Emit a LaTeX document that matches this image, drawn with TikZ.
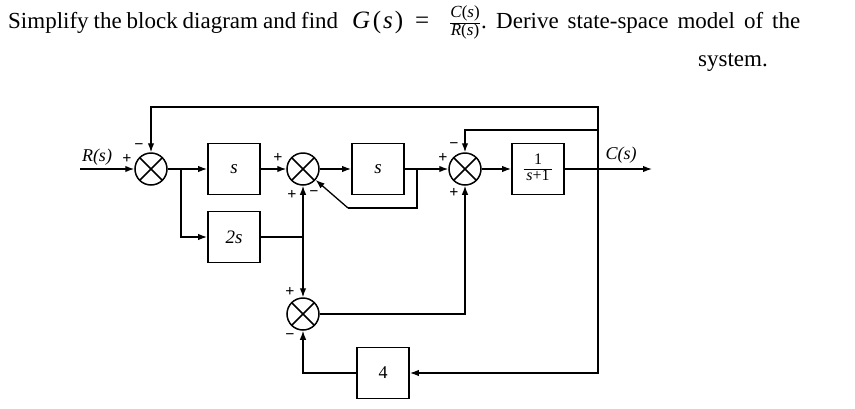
\documentclass[tikz,border=0pt]{standalone}
\usepackage{fontspec}
\setmainfont{Liberation Serif}
\usetikzlibrary{arrows.meta}
\begin{document}
\begin{tikzpicture}[x=1pt,y=-1pt,
  line/.style={line width=1.3pt},
  arr/.style={line width=1.3pt,-{Latex[length=9pt,width=6.5pt]}},
  blk/.style={draw,line width=1.8pt,minimum width=52pt,minimum height=51pt,inner sep=0,font=\fontsize{19}{22}\selectfont\itshape},
  sum/.style={draw,circle,line width=1.5pt,minimum size=32pt,inner sep=0,
    path picture={\draw[line width=1.5pt] (path picture bounding box.north west)--(path picture bounding box.south east)
      (path picture bounding box.north east)--(path picture bounding box.south west);}},
  sgn/.style={font=\fontsize{16}{16}\selectfont\bfseries,inner sep=0},
  lbl/.style={font=\fontsize{18}{20}\selectfont\itshape,inner sep=0},
  title/.style={font=\fontsize{23}{27}\selectfont,inner sep=0}]
\useasboundingbox (0,0) rectangle (855,408);
% title
\node[title,anchor=base west] (t1) at (8,28) {\makebox[330pt][s]{Simplify the block diagram and find}};
\node[title,anchor=base west,font=\fontsize{25}{27}\selectfont] (t2) at (352,28) {\textit{G}\kern2.5pt(\kern2pt\textit{s}\kern2pt)\hspace{12pt}=};
\node[inner sep=0] (t3) at (465,23) {\fontsize{17}{17}\selectfont\renewcommand\arraystretch{1.05}\begin{tabular}{@{}c@{}}\textit{C}(\textit{s})\\\hline\textit{R}(\textit{s})\end{tabular}};
\node[title,anchor=base west] (t4) at (481,28) {.};
\node[title,anchor=base west] (t5) at (496,28) {\makebox[304pt][s]{Derive state-space model of the}};
\node[title,anchor=base east] (t6) at (768,66) {system.};
% blocks and summers
\node[sum] (s1) at (151,169) {};
\node[sum] (s2) at (303,169) {};
\node[sum] (s3) at (465,169) {};
\node[sum] (s4) at (303,314) {};
\node[blk] (b1) at (234,169) {s};
\node[blk] (b2) at (234,237) {2s};
\node[blk] (b3) at (378,169) {s};
\node[blk,font=\fontsize{16}{16}\selectfont] (b5) at (538,169) {\renewcommand\arraystretch{1.0}\begin{tabular}{@{\,}c@{\,}}1\\\hline\textit{s}+1\end{tabular}};
\node[blk,font=\fontsize{18}{20}\selectfont] (b4) at (383,373) {4};
% signs
\node[sgn] (p1a) at (127,159) {+};
\node[sgn] (m1a) at (139,147) {−};
\node[sgn] (p2a) at (278,158) {+};
\node[sgn] (p2b) at (292,195) {+};
\node[sgn] (m2a) at (314,194) {−};
\node[sgn] (p3a) at (443,158) {+};
\node[sgn] (m3a) at (454,146) {−};
\node[sgn] (p3b) at (454,193) {+};
\node[sgn] (p4a) at (290,292) {+};
\node[sgn] (m4a) at (290,337) {−};
% labels
\node[lbl] (lr) at (97,157) {R(s)};
\node[lbl] (lc) at (621,155) {C(s)};
% coordinates
\coordinate (rin) at (80,169);
\coordinate (j1) at (181,169);
\coordinate (j2) at (303,237);
\coordinate (j3) at (417,169);
\coordinate (k2) at (348,208);
\coordinate (cout) at (598,169);
\coordinate (ctop) at (598,107);
\coordinate (cmid) at (598,130);
\coordinate (cbot) at (598,373);
\coordinate (yout) at (652,169);
% connectors
\draw[arr] (rin) -- (s1);
\draw[arr] (s1) -- (b1);
\draw[arr] (j1) |- (b2);
\draw[arr] (b1) -- (s2);
\draw[line] (b2) -- (j2);
\draw[arr] (j2) -- (s2);
\draw[arr] (j2) -- (s4);
\draw[arr] (s2) -- (b3);
\draw[arr] (b3) -- (s3);
\draw[line] (j3) |- (k2);
\draw[arr] (k2) -- (s2);
\draw[arr] (s3) -- (b5);
\draw[arr] (b5) -- (yout);
\draw[arr] (cout) -- (ctop) -| (s1);
\draw[arr] (cmid) -| (s3);
\draw[arr] (cout) -- (cbot) -- (b4);
\draw[arr] (b4) -| (s4);
\draw[arr] (s4) -| (s3);
\end{tikzpicture}
\end{document}
